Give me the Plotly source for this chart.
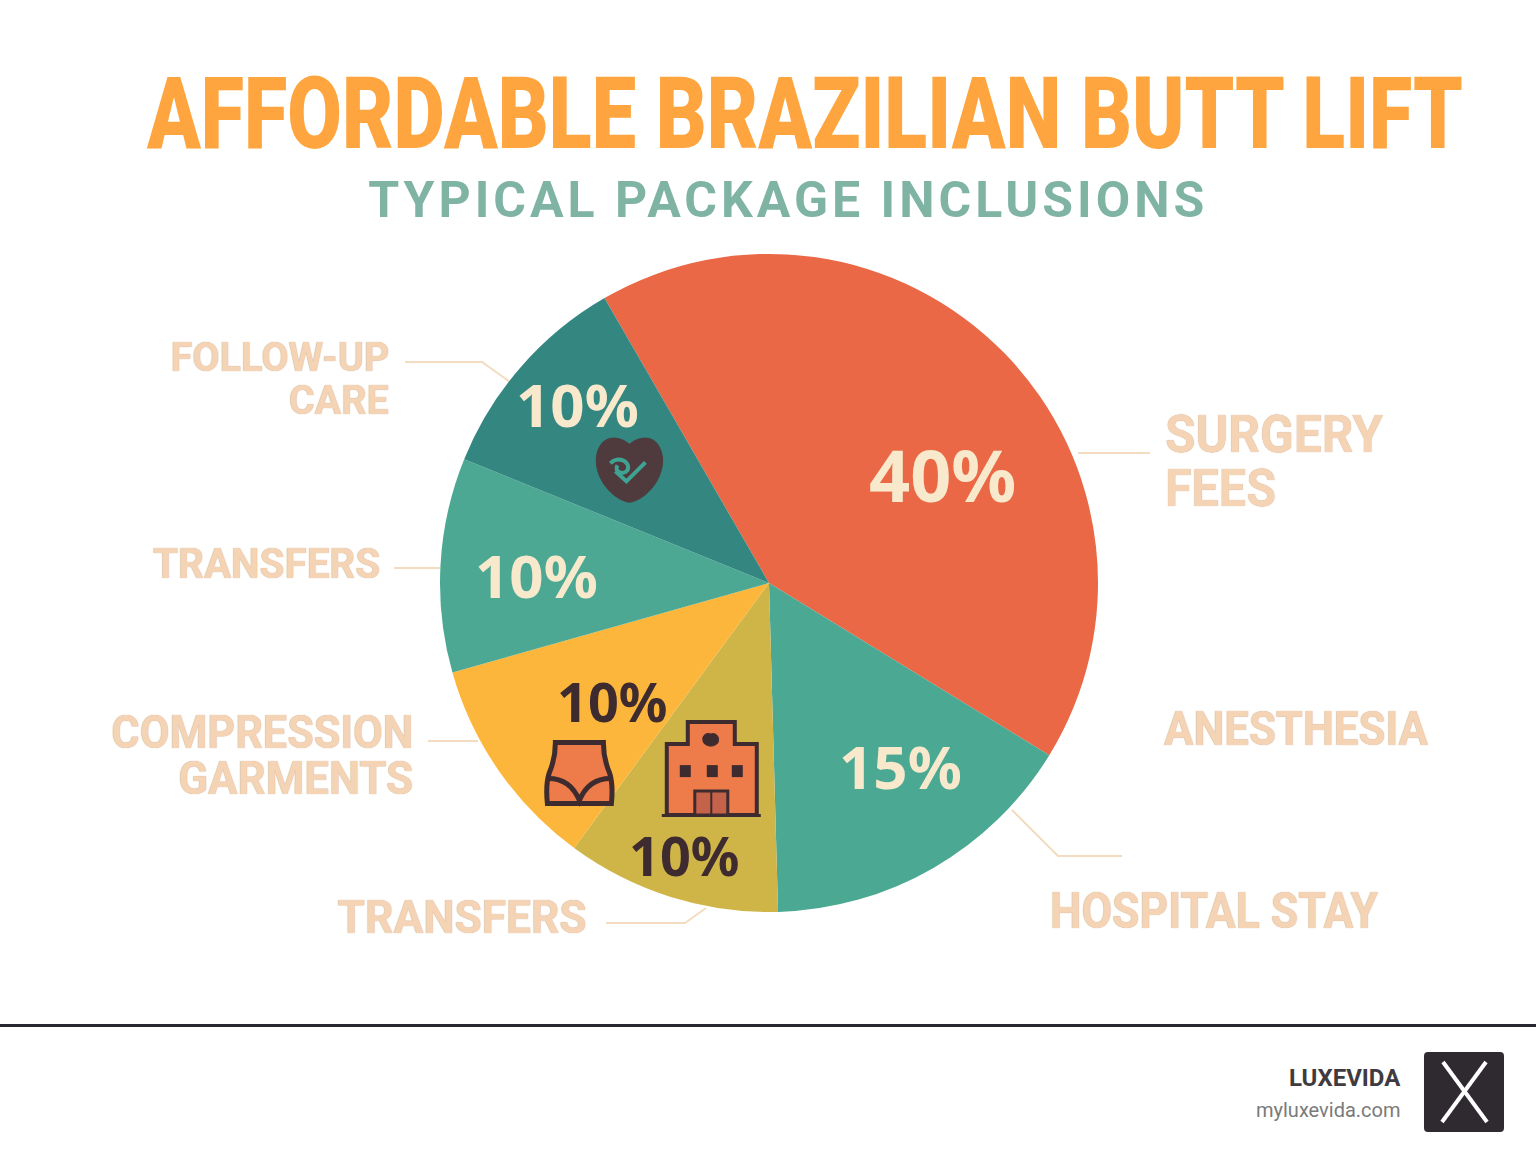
import json
import math

import plotly.graph_objects as go

W, H = 1536, 1154
CX, CY, R = 769, 583, 329

# Pie data: percentages as printed on each slice
slice_names = ["Surgery fees", "Hospital stay", "Transfers (hospital)",
               "Compression garments", "Transfers (airport)", "Follow-up care"]
slice_values = [40, 15, 10, 10, 10, 10]
slice_colors = ["#EA6846", "#4BA893", "#CFB548", "#FBB63B", "#4CA893", "#348680"]

START_ANGLE = -30
DARK = "#3D2B2F"
CREAM = "#F8E9CC"
ORANGE = "#EE7B4A"
TAN = "#F5D3B5"


def px(x):
    return x / W


def py(y):
    return 1 - y / H


def slice_point(index, frac, radius):
    """Pixel position inside a slice: frac runs along its arc, radius from the centre."""
    total = sum(slice_values)
    before = sum(slice_values[:index])
    angle = START_ANGLE + 360 * (before + frac * slice_values[index]) / total
    a = math.radians(angle)
    return CX + radius * math.sin(a), CY - radius * math.cos(a)


def path(ox, oy, cmds):
    """Build an SVG path in paper units from commands given in pixel offsets."""
    out = []
    for c in cmds:
        op, pts = c[0], c[1:]
        out.append(op + " ".join(f"{px(ox + pts[i]):.5f},{py(oy + pts[i + 1]):.5f}"
                                 for i in range(0, len(pts), 2)))
    return " ".join(out) + " Z"


def open_path(ox, oy, cmds):
    return path(ox, oy, cmds)[:-2]


def shape_path(d, fill, line=DARK, width=4):
    return dict(type="path", xref="paper", yref="paper", path=d, fillcolor=fill,
                line=dict(color=line, width=width), layer="above")


def rect(x0, y0, x1, y1, fill, line=DARK, width=0):
    return shape_path(path(0, 0, [("M", x0, y0), ("L", x1, y0), ("L", x1, y1), ("L", x0, y1)]),
                      fill, line if width else fill, width)


def polyline(points, color="#F3DCC0", width=2):
    cmds = [("M",) + points[0]] + [("L",) + p for p in points[1:]]
    return dict(type="path", xref="paper", yref="paper", path=open_path(0, 0, cmds),
                line=dict(color=color, width=width), layer="below")


def text(x, y, s, size, color, family, anchor="center", weight=700, shadow=None):
    font = dict(size=size, color=color, family=family, weight=weight)
    if shadow:
        font["shadow"] = shadow
    # Annotation boxes carry a little padding; nudge so the glyph edge lands on x
    nudge = {"right": 3, "left": -3, "center": 0}[anchor]
    return dict(x=px(x + nudge), y=py(y), xref="paper", yref="paper", text=s, showarrow=False,
                xanchor=anchor, yanchor="middle", font=font, align=anchor)


def heart_icon(ox, oy):
    return [
        shape_path(path(ox, oy, [("M", 0, -25), ("C", 10, -34, 30, -36, 33, -12),
                                 ("C", 35, 8, 18, 30, 0, 33), ("C", -18, 30, -35, 8, -33, -12),
                                 ("C", -30, -36, -10, -34, 0, -25)]), "#4F3A3D", "#4F3A3D", 1),
        shape_path(open_path(ox, oy, [("M", -19, -6), ("C", -12, -14, 2, -8, -2, 1),
                                      ("C", -6, 6, -16, 3, -12, -4), ("M", -14, 2), ("L", -3, 12),
                                      ("L", 16, -7)]), "rgba(0,0,0,0)", "#3FA393", 4),
    ]


def garment_icon(ox, oy):
    return [
        shape_path(path(ox, oy, [("M", -24, -30), ("L", 24, -30), ("Q", 24, -14, 30, 0),
                                 ("Q", 34, 12, 32, 31), ("L", -32, 31), ("Q", -34, 12, -30, 0),
                                 ("Q", -24, -14, -24, -30)]), ORANGE, DARK, 5),
        shape_path(open_path(ox, oy, [("M", -31, 6), ("Q", -9, 6, 0, 28), ("Q", 9, 6, 31, 6)]),
                   "rgba(0,0,0,0)", DARK, 5),
    ]


def hospital_icon(ox, oy):
    parts = [shape_path(path(ox, oy, [("M", -23, -47), ("L", 24, -47), ("L", 24, -25), ("L", 46, -25),
                                      ("L", 46, 46), ("L", -44, 46), ("L", -44, -25), ("L", -23, -25)]),
                        ORANGE)]
    for wx in (-31, -4, 21):
        parts.append(rect(ox + wx, oy - 4, ox + wx + 11, oy + 8, DARK))
    parts.append(rect(ox - 16, oy + 22, ox + 17, oy + 46, "#C5624A", DARK, 3))
    parts.append(rect(ox - 0.5, oy + 22, ox + 1.5, oy + 46, DARK))
    parts.append(rect(ox - 49, oy + 45, ox + 50, oy + 48, DARK))
    parts.append(shape_path(path(ox, oy, [("M", -7, -26), ("C", -11, -35, -2, -37, 0, -35),
                                          ("C", 4, -37, 10, -33, 7, -26), ("C", 3, -22, -3, -22, -7, -26)]),
                            DARK, DARK, 1))
    return parts


# Percentages placed along each slice: (slice, arc fraction, radius, size, colour)
percent_layout = [
    (0, 0.58, 205, 72, CREAM),
    (1, 0.40, 225, 60, CREAM),
    (2, 0.50, 285, 54, DARK),
    (3, 0.44, 196, 54, DARK),
    (4, 0.47, 233, 60, CREAM),
    (5, 0.55, 262, 60, CREAM),
]

annotations = []
for idx, frac, rad, size, color in percent_layout:
    x, y = slice_point(idx, frac, rad)
    annotations.append(text(x, y, f"{slice_values[idx]}%", size, color, "Noto Sans"))

# Callout captions around the pie: (x, y, text, size, anchor, drawn width)
callouts = [
    (388, 357, "FOLLOW-UP", 41, "right", 219),
    (388, 400, "CARE", 41, "right", 100),
    (379, 563, "TRANSFERS", 42, "right", 227),
    (412, 732, "COMPRESSION", 46, "right", 302),
    (412, 778, "GARMENTS", 46, "right", 235),
    (586, 917, "TRANSFERS", 46, "right", 249),
    (1166, 435, "SURGERY", 51, "left", 218),
    (1166, 488, "FEES", 51, "left", 111),
    (1165, 728, "ANESTHESIA", 48, "left", 264),
    (1051, 911, "HOSPITAL STAY", 50, "left", 328),
]
# Indexes of annotations that get a fixed drawn width once the page is laid out
fitted = []
for x, y, s, size, anchor, width in callouts:
    fitted.append((len(annotations), width, "spacingAndGlyphs"))
    annotations.append(text(x, y, s, size, TAN, "Roboto", anchor, shadow="0 0 1px #BE9A7C"))

fitted.append((len(annotations), 1316, "spacingAndGlyphs"))
annotations.append(text(804, 113, "AFFORDABLE BRAZILIAN BUTT LIFT", 100, "#FFA53F", "Roboto", weight=900))
fitted.append((len(annotations), 836, "spacing"))
annotations.append(text(786, 200, "TYPICAL PACKAGE INCLUSIONS", 50, "#7FB3A3", "Roboto"))
annotations += [
    text(1400, 1078, "LUXEVIDA", 24, "#3F3B40", "Roboto", "right"),
    text(1400, 1110, "myluxevida.com", 20, "#7A7A7A", "Roboto", "right", weight=400),
]

leaders = [
    [(405, 362), (482, 362), (510, 382)],
    [(1078, 453), (1150, 453)],
    [(394, 568), (440, 568)],
    [(428, 741), (478, 741)],
    [(606, 923), (685, 923), (706, 908)],
    [(1122, 856), (1058, 856), (1012, 810)],
]

shapes = [polyline(p) for p in leaders]
shapes += heart_icon(*slice_point(5, 0.45, 180))
shapes += garment_icon(*slice_point(3, 0.23, 268))
shapes += hospital_icon(*slice_point(2, 0.5, 195))

# Footer rule and logo tile
shapes.append(rect(0, 1024, W, 1027, "#2B2730"))
shapes.append(shape_path(path(0, 0, [("M", 1428, 1052), ("L", 1500, 1052), ("Q", 1504, 1052, 1504, 1056),
                                     ("L", 1504, 1128), ("Q", 1504, 1132, 1500, 1132), ("L", 1428, 1132),
                                     ("Q", 1424, 1132, 1424, 1128), ("L", 1424, 1056),
                                     ("Q", 1424, 1052, 1428, 1052)]), "#2F2A30", "#2F2A30", 0))
for a, b in (((1443, 1062), (1487, 1122)), ((1486, 1062), (1442, 1122))):
    shapes.append(dict(type="line", xref="paper", yref="paper", x0=px(a[0]), y0=py(a[1]),
                       x1=px(b[0]), y1=py(b[1]), line=dict(color="white", width=4), layer="above"))

fig = go.Figure(go.Pie(
    labels=slice_names,
    values=slice_values,
    marker=dict(colors=slice_colors, line=dict(width=0)),
    sort=False,
    direction="clockwise",
    rotation=START_ANGLE,
    textinfo="none",
    hoverinfo="skip",
    showlegend=False,
    domain=dict(x=[px(CX - R), px(CX + R)], y=[py(CY + R), py(CY - R)]),
))
fig.update_layout(width=W, height=H, margin=dict(l=0, r=0, t=0, b=0), paper_bgcolor="white",
                  plot_bgcolor="white", shapes=shapes, annotations=annotations)

# Condensed display lettering and tracked captions: set the drawn length on the SVG text
fit_script = """
var gd = document.getElementById('{plot_id}');
var fits = FITS;
fits.forEach(function (f) {
  var t = gd.querySelector('.annotation[data-index="' + f[0] + '"] text');
  if (t) {
    t.setAttribute('textLength', f[1]);
    t.setAttribute('lengthAdjust', f[2]);
  }
});
""".replace("FITS", json.dumps(fitted))

fig.write_html("out.html", config=dict(displayModeBar=False), post_script=fit_script)
